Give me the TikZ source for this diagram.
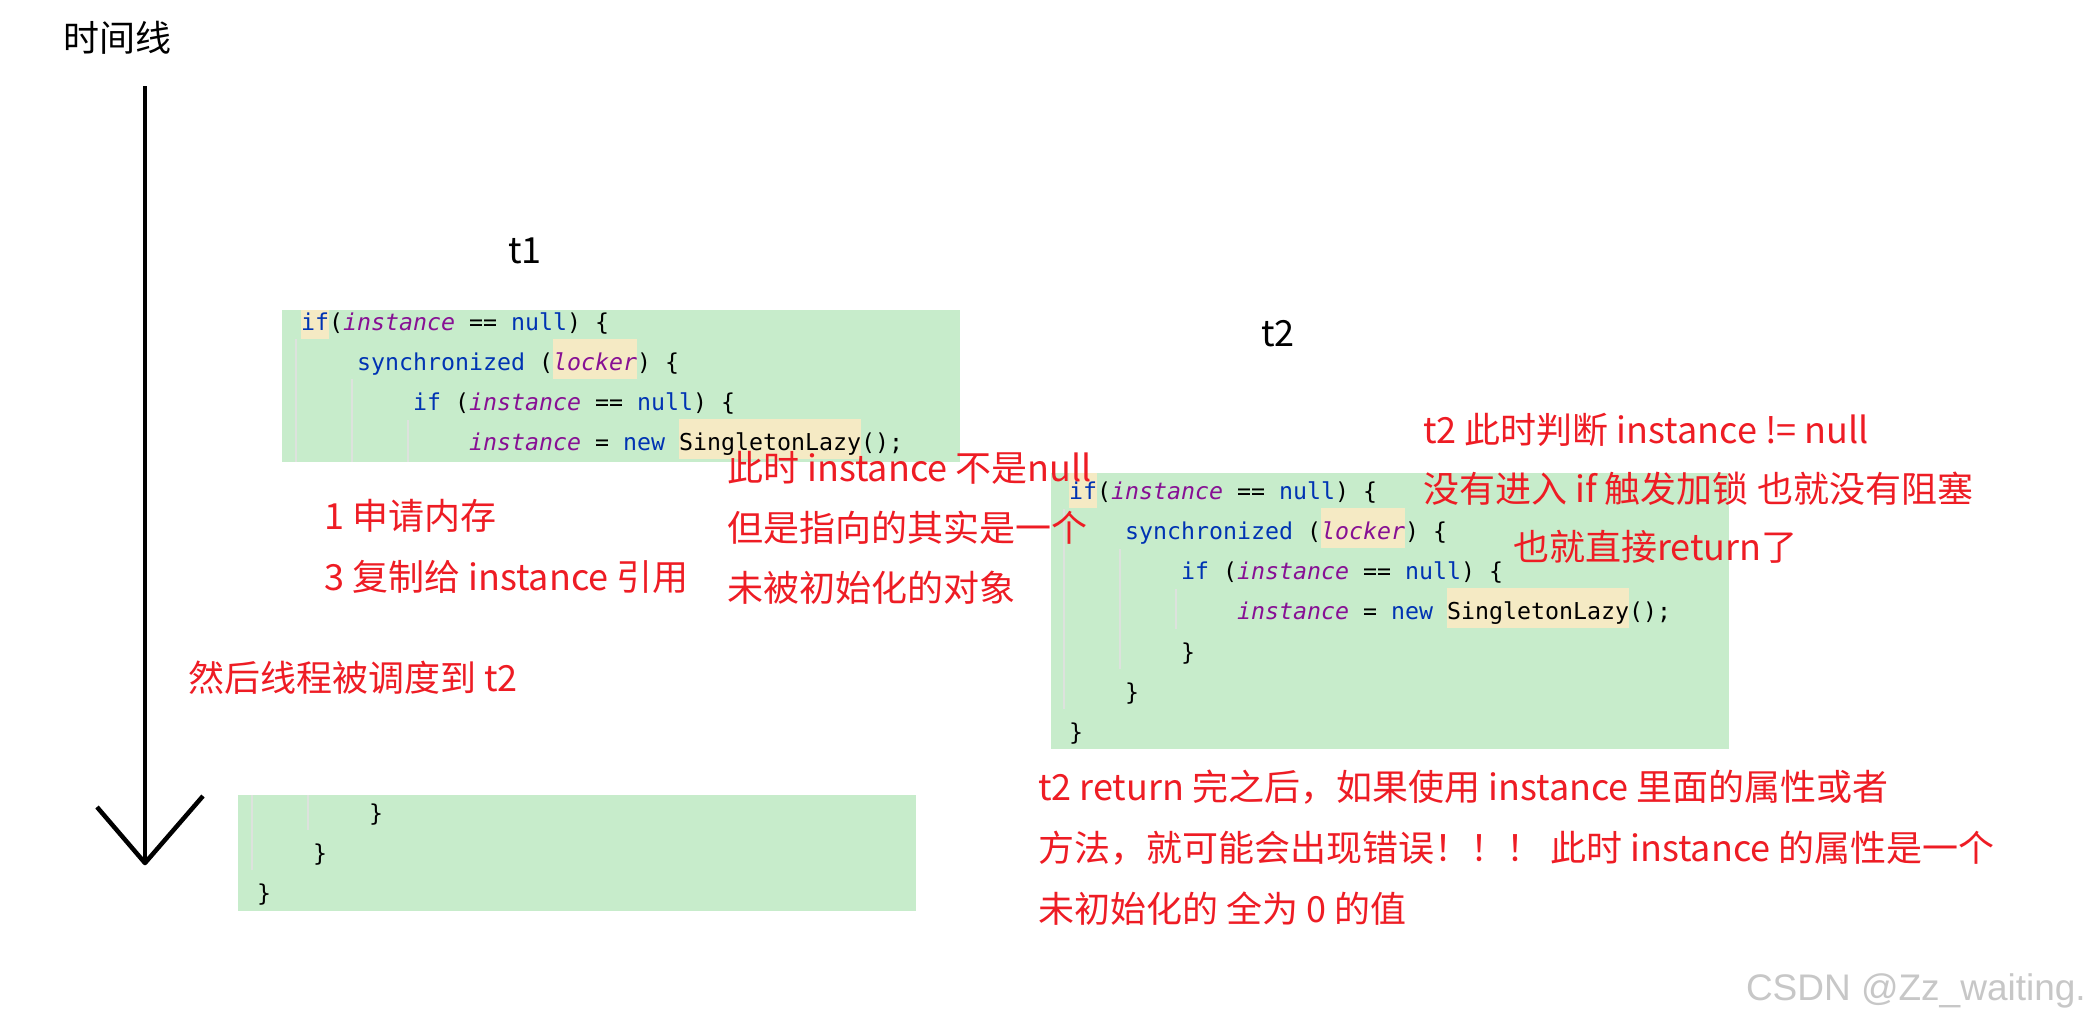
\documentclass[tikz,border=0pt]{standalone}
\usepackage{fontspec}
\setmonofont{DejaVu Sans Mono}
\newfontfamily\cjk{Noto Sans CJK SC}
\newfontfamily\wmfont{Liberation Sans}
\usetikzlibrary{positioning}

\definecolor{codebg}{RGB}{199,236,203}
\definecolor{hlbg}{RGB}{245,234,196}
\definecolor{kwblue}{RGB}{0,51,179}
\definecolor{varpurple}{RGB}{135,16,148}
\definecolor{notered}{RGB}{238,28,36}
\definecolor{guidegray}{RGB}{221,226,221}

% java colouring
\newcommand{\jkw}[1]{\textcolor{kwblue}{#1}}
\newcommand{\jvar}[1]{\textcolor{varpurple}{\itshape #1}}
\newcommand{\jhl}[2][31.5pt]{{\setlength{\fboxsep}{0pt}\colorbox{hlbg}{\rule[-8.5pt]{0pt}{\dimexpr#1+8.5pt\relax}#2}}}

\tikzset{
  codebox/.style={rectangle, fill=codebg, inner sep=0pt, anchor=north west,
                  minimum width=678pt},
  code/.style={font=\fontsize{23.25}{28}\selectfont\ttfamily, text=black,
               inner sep=0pt, anchor=base west},
  guide/.style={draw=guidegray, line width=2pt},
  note/.style={font=\cjk\fontsize{36}{40}\selectfont, text=notered,
               inner sep=0pt, anchor=base west},
  lbl/.style={font=\cjk\fontsize{36}{40}\selectfont, text=black,
              inner sep=0pt, anchor=base west},
  tline/.style={line width=4.5pt, line join=round},
  wmark/.style={font=\wmfont\fontsize{37}{40}\selectfont, text=black!22,
                inner sep=0pt, anchor=base east}
}

\begin{document}
\begin{tikzpicture}[x=1pt, y=-1pt]
  \path[use as bounding box, fill=white] (0,0) rectangle (2089,1021);

  % time line
  \node[lbl] (title) at (63,51) {时间线};
  \coordinate (tltop) at (145,86);
  \coordinate (tlend) at (145,863);
  \coordinate (armL) at (97,807);
  \coordinate (armR) at (203,796);
  \draw[tline] (tltop) -- (tlend);
  \draw[tline] (armL) -- (tlend) -- (armR);

  % thread labels
  \node[lbl] (t1) at (508,263) {t1};
  \node[lbl] (t2) at (1261,346) {t2};

  % code of t1
  \node[codebox, minimum height=152pt] (t1box) at (282,310) {};
  \draw[guide] (296,338.8) -- (296,462);
  \draw[guide] (352,379) -- (352,462);
  \draw[guide] (408,419.5) -- (408,462);
  \node[code] (t1a) at (301,330) {\jhl[20pt]{\jkw{if}}(\jvar{instance} == \jkw{null}) \{};
  \node[code, below=40.3pt of t1a.base west, anchor=base west, xshift=56pt] (t1b)
    {\jkw{synchronized} (\jhl{\jvar{locker}}) \{};
  \node[code, below=40.3pt of t1b.base west, anchor=base west, xshift=56pt] (t1c)
    {\jkw{if} (\jvar{instance} == \jkw{null}) \{};
  \node[code, below=40.3pt of t1c.base west, anchor=base west, xshift=56pt] (t1d)
    {\jvar{instance} = \jkw{new} \jhl{SingletonLazy}();};

  % rest of t1
  \node[codebox, minimum height=116pt] (t1tail) at (238,795) {};
  \draw[guide] (252,795) -- (252,870);
  \draw[guide] (308,795) -- (308,830);
  \node[code] (t1e) at (369,821) {\}};
  \node[code, below=40.3pt of t1e.base west, anchor=base west, xshift=-56pt] (t1f) {\}};
  \node[code, below=40.3pt of t1f.base west, anchor=base west, xshift=-56pt] (t1g) {\}};

  % code of t2
  \node[codebox, minimum height=276pt] (t2box) at (1051,473) {};
  \draw[guide] (1064,508.5) -- (1064,709);
  \draw[guide] (1120,548.5) -- (1120,668.5);
  \draw[guide] (1176,589) -- (1176,628.5);
  \node[code] (t2a) at (1069,499) {\jhl[26pt]{\jkw{if}}(\jvar{instance} == \jkw{null}) \{};
  \node[code, below=40.3pt of t2a.base west, anchor=base west, xshift=56pt] (t2b)
    {\jkw{synchronized} (\jhl{\jvar{locker}}) \{};
  \node[code, below=40.3pt of t2b.base west, anchor=base west, xshift=56pt] (t2c)
    {\jkw{if} (\jvar{instance} == \jkw{null}) \{};
  \node[code, below=40.3pt of t2c.base west, anchor=base west, xshift=56pt] (t2d)
    {\jvar{instance} = \jkw{new} \jhl{SingletonLazy}();};
  \node[code, below=40.3pt of t2d.base west, anchor=base west, xshift=-56pt] (t2e) {\}};
  \node[code, below=40.3pt of t2e.base west, anchor=base west, xshift=-56pt] (t2f) {\}};
  \node[code, below=40.3pt of t2f.base west, anchor=base west, xshift=-56pt] (t2g) {\}};

  % notes
  \node[note] (memA) at (324,529) {1 申请内存};
  \node[note, below=61pt of memA.base west, anchor=base west] (memB) {3 复制给 instance 引用};
  \node[note] (nullA) at (727,481) {此时 instance 不是null};
  \node[note, below=60.5pt of nullA.base west, anchor=base west] (nullB) {但是指向的其实是一个};
  \node[note, below=60pt of nullB.base west, anchor=base west] (nullC) {未被初始化的对象};
  \node[note] (sched) at (188,691) {然后线程被调度到 t2};
  \node[note] (chkA) at (1423,443) {t2 此时判断 instance != null};
  \node[note, below=59pt of chkA.base west, anchor=base west] (chkB) {没有进入 if 触发加锁 也就没有阻塞};
  \node[note, below=58pt of chkB.base west, anchor=base west, xshift=90pt] (chkC) {也就直接return了};
  \node[note] (errA) at (1038,800) {t2 return 完之后，如果使用 instance 里面的属性或者};
  \node[note, below=61pt of errA.base west, anchor=base west] (errB) {方法，就可能会出现错误！！！ 此时 instance 的属性是一个};
  \node[note, below=61pt of errB.base west, anchor=base west] (errC) {未初始化的 全为 0 的值};

  \node[wmark] (wm) at (2086,1000) {CSDN @Zz\_waiting.};
\end{tikzpicture}
\end{document}
